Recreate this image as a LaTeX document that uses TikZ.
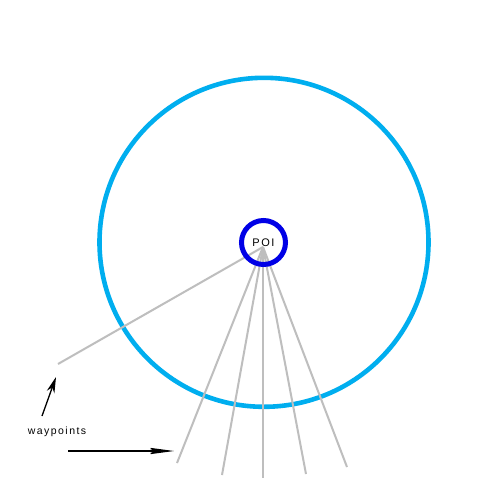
\documentclass[tikz,border=0pt]{standalone}
\usepackage{fontspec}
\setmainfont{Liberation Sans}
\newfontfamily\spaced[LetterSpace=14]{Liberation Sans}
\usetikzlibrary{arrows.meta}
\definecolor{ringcyan}{RGB}{0,174,239}
\definecolor{poiblue}{RGB}{0,0,230}
\definecolor{waygray}{RGB}{190,190,190}
\tikzset{
  ring/.style={draw=ringcyan, line width=4.6pt},
  poiring/.style={draw=poiblue, line width=5pt},
  wayline/.style={draw=waygray, line width=2pt},
  pointer/.style={draw=black, line width=1.3pt},
  shorthead/.style={-{Stealth[length=16pt,width=8pt,inset=5pt]}},
  longhead/.style={-{Stealth[length=30pt,width=8pt,inset=12pt]}},
  lbl/.style={font=\spaced\fontsize{10.5pt}{12pt}\selectfont, inner sep=0pt},
  poilbl/.style={font=\spaced\fontsize{11pt}{12pt}\selectfont, inner sep=0pt}
}
\begin{document}
\begin{tikzpicture}[x=1pt,y=-1pt]
\useasboundingbox (0,0) rectangle (504,504);
\fill[white] (0,0) rectangle (504,504);
\coordinate (c) at (264,242.3);
\coordinate (hub) at (263,247);
\coordinate (w1) at (58,364);
\coordinate (w2) at (177,463);
\coordinate (w3) at (222,475);
\coordinate (w4) at (263,478);
\coordinate (w5) at (306,474);
\coordinate (w6) at (347,467);
\draw[ring] (c) circle (164.5);
\foreach \w in {w1,w2,w3,w4,w5,w6} \draw[wayline] (hub) -- (\w);
\draw[poiring] (263.5,242.5) circle (22);
\node[poilbl] (poi) at (263.5,243) {POI};
\node[lbl] (way) at (57,432) {waypoints};
\coordinate (a1s) at (42,416);
\coordinate (a1e) at (56,377);
\coordinate (a2s) at (68,451);
\coordinate (a2e) at (174,451);
\draw[pointer,shorthead] (a1s) -- (a1e);
\draw[pointer,longhead] (a2s) -- (a2e);
\end{tikzpicture}
\end{document}
